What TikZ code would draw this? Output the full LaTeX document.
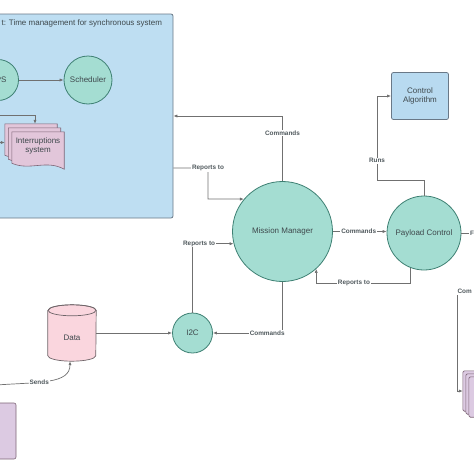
\documentclass[tikz,border=0pt]{standalone}
\usepackage{fontspec}
\setmainfont{Liberation Sans}
\usetikzlibrary{arrows.meta}

\definecolor{boxblue}{RGB}{190,222,242}
\definecolor{algblue}{RGB}{184,218,240}
\definecolor{bluerim}{RGB}{105,120,135}
\definecolor{tealfill}{RGB}{164,221,210}
\definecolor{tealrim}{RGB}{62,128,115}
\definecolor{docpink}{RGB}{226,198,218}
\definecolor{docrim}{RGB}{125,100,118}
\definecolor{datapink}{RGB}{250,214,222}
\definecolor{datarim}{RGB}{110,100,104}
\definecolor{lilac}{RGB}{220,202,226}
\definecolor{linegray}{RGB}{112,112,112}
\definecolor{inkgray}{RGB}{62,72,76}

% outline of one paper of a document stack
\newcommand{\docsheet}[1]{%
  \filldraw[fill=docpink,draw=docrim,line width=0.6pt]
    (#1.north west) -- (#1.north east) -- (#1.south east)
    .. controls ([xshift=-18pt,yshift=10pt]#1.south east)
    and ([xshift=18pt,yshift=-2pt]#1.south west) .. ([yshift=6pt]#1.south west)
    -- cycle;}

\begin{document}
\begin{tikzpicture}[x=1pt,y=-1pt,
  txt/.style={font=\fontsize{8}{9.5}\selectfont,text=inkgray,align=center},
  proc/.style={txt,circle,draw=tealrim,fill=tealfill,line width=0.8pt,inner sep=0pt},
  sheet/.style={rectangle,minimum width=52pt,minimum height=37pt,inner sep=0pt},
  lbl/.style={font=\fontsize{6.4}{7}\selectfont\bfseries,text=inkgray!90,fill=white,inner sep=0.8pt},
  conn/.style={draw=linegray,line width=0.7pt,-{Latex[length=4pt,width=3.2pt]}},
  wire/.style={draw=linegray,line width=0.7pt}]

\useasboundingbox (0,0) rectangle (474,474);
\clip (0,0) rectangle (474,474);

% subsystem box
\node[draw=bluerim,fill=boxblue,rounded corners=2pt,line width=0.8pt,
  minimum width=185pt,minimum height=204pt] (tms) at (80.5,116) {};
\node[txt,anchor=west] (tmstitle) at (-2,23) {t: Time management for synchronous system};

\node[proc,minimum size=41pt] (gps) at (-2,80) {GPS};
\node[proc,minimum size=48pt] (sched) at (88,80) {Scheduler};

% interruptions stack
\node[sheet] (intrA) at (31,142.5) {};
\node[sheet] (intrB) at (34.5,146.5) {};
\node[sheet] (intr) at (38,150.5) {};
\docsheet{intrA}
\docsheet{intrB}
\docsheet{intr}
\node[txt] (intrtext) at (38,146) {Interruptions\\system};

\node[proc,minimum size=100pt] (mm) at (282.5,231.5) {Mission Manager};
\node[proc,minimum size=74pt] (pc) at (424,233) {Payload Control};
\node[txt,draw=bluerim,fill=algblue,rounded corners=2pt,line width=0.8pt,
  minimum width=57pt,minimum height=47pt] (alg) at (420,96) {Control\\Algorithm};
\node[proc,minimum size=40pt] (i2c) at (192.5,333) {I2C};

% data store
\node[minimum width=48pt,minimum height=56pt,inner sep=0pt] (data) at (72,333) {};
\filldraw[fill=datapink,draw=datarim,line width=0.7pt]
  ([yshift=-5.5pt]data.north west) -- ([yshift=5.5pt]data.south west)
  arc[start angle=180,end angle=360,x radius=24pt,y radius=5.5pt]
  -- ([yshift=-5.5pt]data.north east)
  arc[start angle=0,end angle=180,x radius=24pt,y radius=5.5pt];
\draw[datarim,line width=0.7pt] ([yshift=-5.5pt]data.north)
  ellipse[x radius=24pt,y radius=5.5pt];
\node[txt] (datatext) at (72,338) {Data};

\node[draw=docrim,fill=lilac,rounded corners=2pt,line width=0.6pt,
  minimum width=36pt,minimum height=56pt] (dev) at (-2,431) {};

% stack at the right edge
\node[rectangle,minimum width=40pt,minimum height=40pt] (stkA) at (483,391) {};
\node[rectangle,minimum width=40pt,minimum height=40pt] (stkB) at (486,394) {};
\node[rectangle,minimum width=40pt,minimum height=40pt] (stkC) at (489,397) {};
\filldraw[fill=lilac,draw=docrim,line width=0.6pt,rounded corners=1.5pt]
  (stkA.south west) rectangle (stkA.north east);
\filldraw[fill=lilac,draw=docrim,line width=0.6pt,rounded corners=1.5pt]
  (stkB.south west) rectangle (stkB.north east);
\filldraw[fill=lilac,draw=docrim,line width=0.6pt,rounded corners=1.5pt]
  (stkC.south west) rectangle (stkC.north east);

% connectors
\coordinate (gpsL) at (-4,115);
\coordinate (intL) at (-4,142.5);
\coordinate (sendL) at (-4,385);
\coordinate (comT) at (457.7,294);
\coordinate (outR) at (470,233);

\draw[conn] (gps) -- (sched);
\draw[conn] (gpsL) -| ([xshift=4pt]intrA.north);
\draw[conn] (intL) -- (intrA.west);

\draw[conn] (mm.north) |- node[lbl,pos=0.37]{Commands} (tms.east);
\draw[conn] ([yshift=-52pt]tms.east) -- (208,168) node[lbl]{Reports to}
  -- (208,199) -- (mm.140);
\draw[conn] (mm.east) -- node[lbl,pos=0.48]{Commands} (mm.east -| pc.west);
\draw[conn] (pc.249) -- ++(0,15) -| node[lbl,pos=0.3]{Reports to} (mm.312);
\draw[conn] (pc.north) |- (377,180) -- node[lbl,pos=0.23]{Runs} (377,96) -- (alg.west);
\draw[wire] (pc.east) -- (outR);
\node[lbl,anchor=west] (outlbl) at (469,233) {F};

\draw[conn] (mm.south) |- node[lbl,pos=0.61]{Commands} (i2c.east);
\draw[conn] (i2c.north) |- node[lbl,pos=0.58]{Reports to} (mm.194);
\draw[conn] (data.east) -- (i2c.west);
\draw[conn] (sendL) .. controls (40,382) and (70,384) .. node[lbl,pos=0.38]{Sends}
  ([xshift=-2pt]data.south);

\draw[conn] (comT) |- (stkA.west);
\node[lbl,anchor=west] (comlbl) at (456.5,291.5) {Com};
\end{tikzpicture}
\end{document}
